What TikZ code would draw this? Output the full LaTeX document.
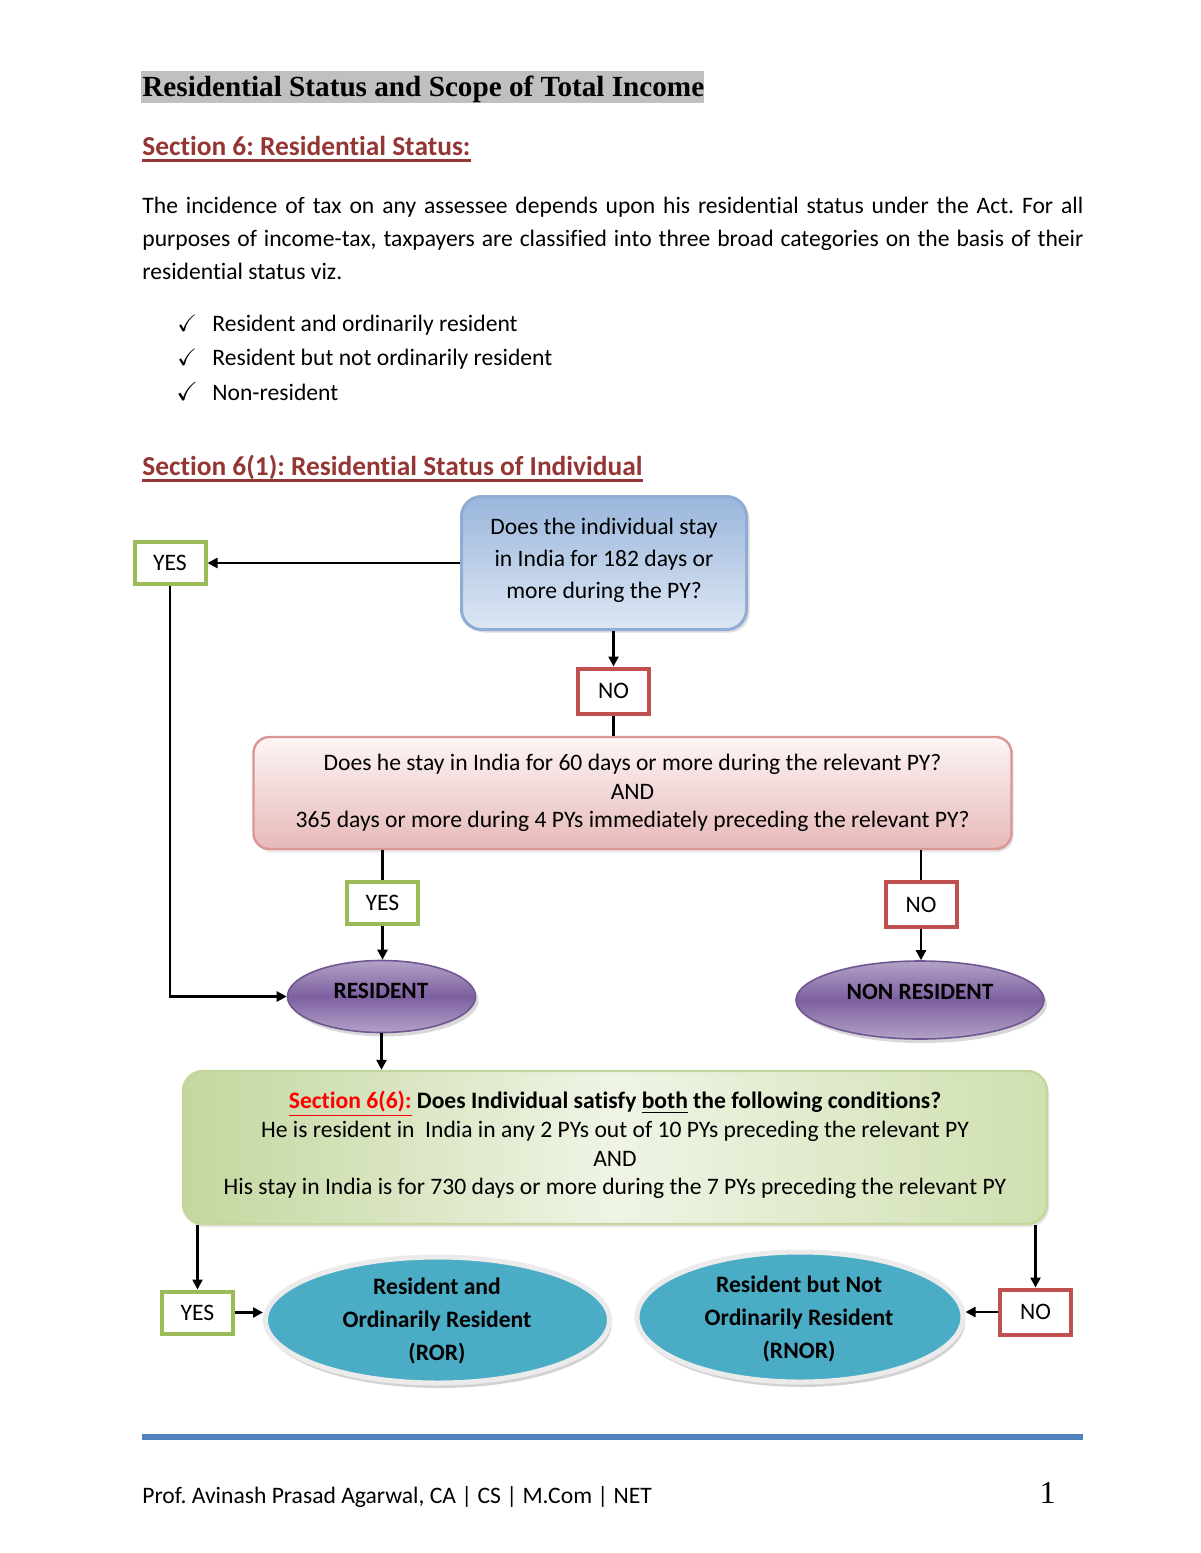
\documentclass[tikz,border=0pt]{standalone}
\usepackage{amssymb}
\usepackage{fontspec}
\setmainfont{Carlito}[Ligatures=NoCommon]
\newfontfamily\titlefont{Liberation Serif}
\usetikzlibrary{shapes.geometric,shadows,arrows.meta}
\definecolor{titlegray}{HTML}{C0C0C0}
\definecolor{headred}{HTML}{943634}
\definecolor{yesgreen}{HTML}{9BBB59}
\definecolor{nored}{HTML}{C0504D}
\definecolor{blueA}{HTML}{9AB6DC}
\definecolor{blueB}{HTML}{DDE7F3}
\definecolor{blueBorder}{HTML}{8EACD4}
\definecolor{pinkTop}{HTML}{FDF5F5}
\definecolor{pinkBot}{HTML}{E6B9B8}
\definecolor{pinkBorder}{HTML}{D99694}
\definecolor{greenL}{HTML}{C3D79E}
\definecolor{greenM}{HTML}{EFF4E5}
\definecolor{greenR}{HTML}{CFE0B0}
\definecolor{greenBorder}{HTML}{C3D69B}
\definecolor{purpTop}{HTML}{B3A2C7}
\definecolor{purpMid}{HTML}{7D5FA0}
\definecolor{purpBorder}{HTML}{6F5792}
\definecolor{cyanfill}{HTML}{4BACC6}
\definecolor{ringgray}{HTML}{EBEBEB}
\definecolor{lineblue}{HTML}{4F81BD}
\frenchspacing
\begin{document}
\frenchspacing
\begin{tikzpicture}[x=0.5pt,y=-0.5pt,
  lbl/.style={inner sep=0pt, font=\fontsize{11.8}{14}\selectfont},
  ansyes/.style={draw=yesgreen, line width=2pt, fill=white, minimum width=35.5pt, minimum height=21pt, inner sep=0pt, font=\fontsize{11.8}{13}\selectfont},
  ansno/.style={draw=nored, line width=2pt, fill=white, minimum width=35.5pt, minimum height=22.5pt, inner sep=0pt, font=\fontsize{11.8}{13}\selectfont},
  qblue/.style={rounded corners=10pt, draw=blueBorder, line width=1.5pt, top color=blueA, bottom color=blueB, drop shadow={opacity=0.25, shadow xshift=1.5pt, shadow yshift=-1.5pt}, inner sep=0pt},
  qpink/.style={rounded corners=8pt, draw=pinkBorder, line width=1.2pt, top color=pinkTop, bottom color=pinkBot, drop shadow={opacity=0.2, shadow xshift=1pt, shadow yshift=-1.5pt}, inner sep=0pt},
  qgreen/.style={rounded corners=10pt, draw=greenBorder, line width=1.2pt, left color=greenL, right color=greenR, middle color=greenM, drop shadow={opacity=0.2, shadow xshift=1pt, shadow yshift=-1.5pt}, inner sep=0pt},
  purp/.style={ellipse, draw=purpBorder, line width=0.8pt, top color=purpTop, bottom color=purpTop, middle color=purpMid, drop shadow={opacity=0.3, shadow xshift=1.5pt, shadow yshift=-2pt}, inner sep=0pt},
  cyanell/.style={ellipse, draw=ringgray, line width=2.5pt, fill=cyanfill, drop shadow={opacity=0.35, shadow xshift=1pt, shadow yshift=-2.5pt}, inner sep=0pt},
  txt/.style={inner sep=0pt, align=center},
  arr/.style={line width=1.2pt, -{Triangle[length=5pt,width=5pt]}},
  ln/.style={line width=1.2pt},
  uline/.style={line width=1.3pt, draw=headred}
]
\useasboundingbox (0,0) rectangle (1200,1553);
\fill[white] (0,0) rectangle (1200,1553);

% title
\fill[titlegray] (141,71) rectangle (704,103);
\node[lbl, anchor=base west, font=\titlefont\bfseries\fontsize{14.6}{16}\selectfont] (title) at (142,96) {Residential Status and Scope of Total Income};

% heading 1
\node[lbl, anchor=base west, text=headred, font=\bfseries\fontsize{13.7}{15}\selectfont] (h1) at (142,155) {Section 6: Residential Status:};
\draw[uline] ([yshift=-2.6pt]h1.base west) -- ([yshift=-2.6pt]h1.base east);

% paragraph
\node[lbl, anchor=base west] (p1) at (142,213) {\makebox[470.5pt][s]{The incidence of tax on any assessee depends upon his residential status under the Act. For all}};
\node[lbl, anchor=base west] (p2) at (142,246) {\makebox[470.5pt][s]{purposes of income-tax, taxpayers are classified into three broad categories on the basis of their}};
\node[lbl, anchor=base west] (p3) at (142,279) {residential status viz.};

% checklist
\node[lbl, anchor=base west] (c1m) at (177,331) {$\checkmark$};
\node[lbl, anchor=base west] (c1) at (212,331) {Resident and ordinarily resident};
\node[lbl, anchor=base west] (c2m) at (177,365) {$\checkmark$};
\node[lbl, anchor=base west] (c2) at (212,365) {Resident but not ordinarily resident};
\node[lbl, anchor=base west, font=\fontsize{13}{13}\selectfont] (c3m) at (176,400) {$\checkmark$};
\node[lbl, anchor=base west] (c3) at (212,400) {Non-resident};

% heading 2
\node[lbl, anchor=base west, text=headred, font=\bfseries\fontsize{13.7}{15}\selectfont] (h2) at (142,475) {Section 6(1): Residential Status of Individual};
\draw[uline] ([yshift=-2.6pt]h2.base west) -- ([yshift=-2.6pt]h2.base east);

% flowchart nodes
\node[qblue, minimum width=142.5pt, minimum height=66.5pt] (q1) at (604,563) {};
\node[txt, font=\fontsize{11.8}{16}\selectfont] (q1t) at (604,560) {Does the individual stay\\in India for 182 days or\\more during the PY?};

\node[ansyes] (yes1) at (170,563) {YES};
\node[ansno] (no1) at (613.5,691) {NO};

\node[qpink, minimum width=379pt, minimum height=56pt] (q2) at (632.5,793) {};
\node[txt, font=\fontsize{11.8}{14.25}\selectfont] (q2t) at (632.5,793) {Does he stay in India for 60 days or more during the relevant PY?\\AND\\365 days or more during 4 PYs immediately preceding the relevant PY?};

\node[ansyes] (yes2) at (382.5,903) {YES};
\node[ansno] (no2) at (921,904.5) {NO};

\node[purp, minimum width=94pt, minimum height=36pt] (res) at (381.5,996.5) {};
\node[txt, font=\bfseries\fontsize{11.7}{13}\selectfont] (rest) at (381,991) {RESIDENT};
\node[purp, minimum width=124pt, minimum height=39pt] (nonres) at (920,1000) {};
\node[txt, font=\bfseries\fontsize{11.7}{13}\selectfont] (nonrest) at (920,992) {NON RESIDENT};

\node[qgreen, minimum width=432pt, minimum height=76.5pt] (q3) at (615,1147.5) {};
\node[txt, font=\fontsize{11.8}{14.3}\selectfont] (q3t) at (615,1145) {{\bfseries\color{red}\underline{Section 6(6):}} {\bfseries Does Individual satisfy \underline{both} the following conditions?}\\He is resident in\ \ India in any 2 PYs out of 10 PYs preceding the relevant PY\\AND\\His stay in India is for 730 days or more during the 7 PYs preceding the relevant PY};

\node[ansyes] (yes3) at (197.5,1312.5) {YES};
\node[ansno] (no3) at (1035.5,1312) {NO};

\node[cyanell, minimum width=172pt, minimum height=63pt] (ror) at (437.5,1320) {};
\node[txt, font=\bfseries\fontsize{11.8}{16.5}\selectfont] (rort) at (437,1321) {Resident and\\Ordinarily Resident\\(ROR)};
\node[cyanell, minimum width=163pt, minimum height=65pt] (rnor) at (800,1317) {};
\node[txt, font=\bfseries\fontsize{11.8}{16.5}\selectfont] (rnort) at (799,1319) {Resident but Not\\Ordinarily Resident\\(RNOR)};

% connectors
\draw[arr] (q1.west) -- (yes1.east);
\draw[arr] (yes1.south) -- (yes1.south |- res.west) -- (res.west);
\draw[arr] (no1.north |- q1.south) -- (no1.north);
\draw[ln] (no1.south) -- (no1.south |- q2.north);
\draw[ln] (q2.south -| yes2.north) -- (yes2.north);
\draw[arr] (yes2.south) -- (yes2.south |- res.north);
\draw[ln] (q2.south -| no2.north) -- (no2.north);
\draw[arr] (no2.south) -- (no2.south |- nonres.north);
\draw[arr] (res.south) -- (res.south |- q3.north);
\draw[arr] (q3.south -| yes3.north) -- (yes3.north);
\draw[arr] (yes3.east) -- (yes3.east -| ror.west);
\draw[arr] (q3.south -| no3.north) -- (no3.north);
\draw[arr] (no3.west) -- (no3.west -| rnor.east);

% footer
\fill[lineblue] (142,1434) rectangle (1083,1440);
\node[lbl, anchor=base west] (foot) at (142,1503) {Prof. Avinash Prasad Agarwal, CA | CS | M.Com | NET};
\node[lbl, anchor=base east, font=\titlefont\fontsize{16}{18}\selectfont] (pageno) at (1056,1503) {1};
\end{tikzpicture}
\end{document}
